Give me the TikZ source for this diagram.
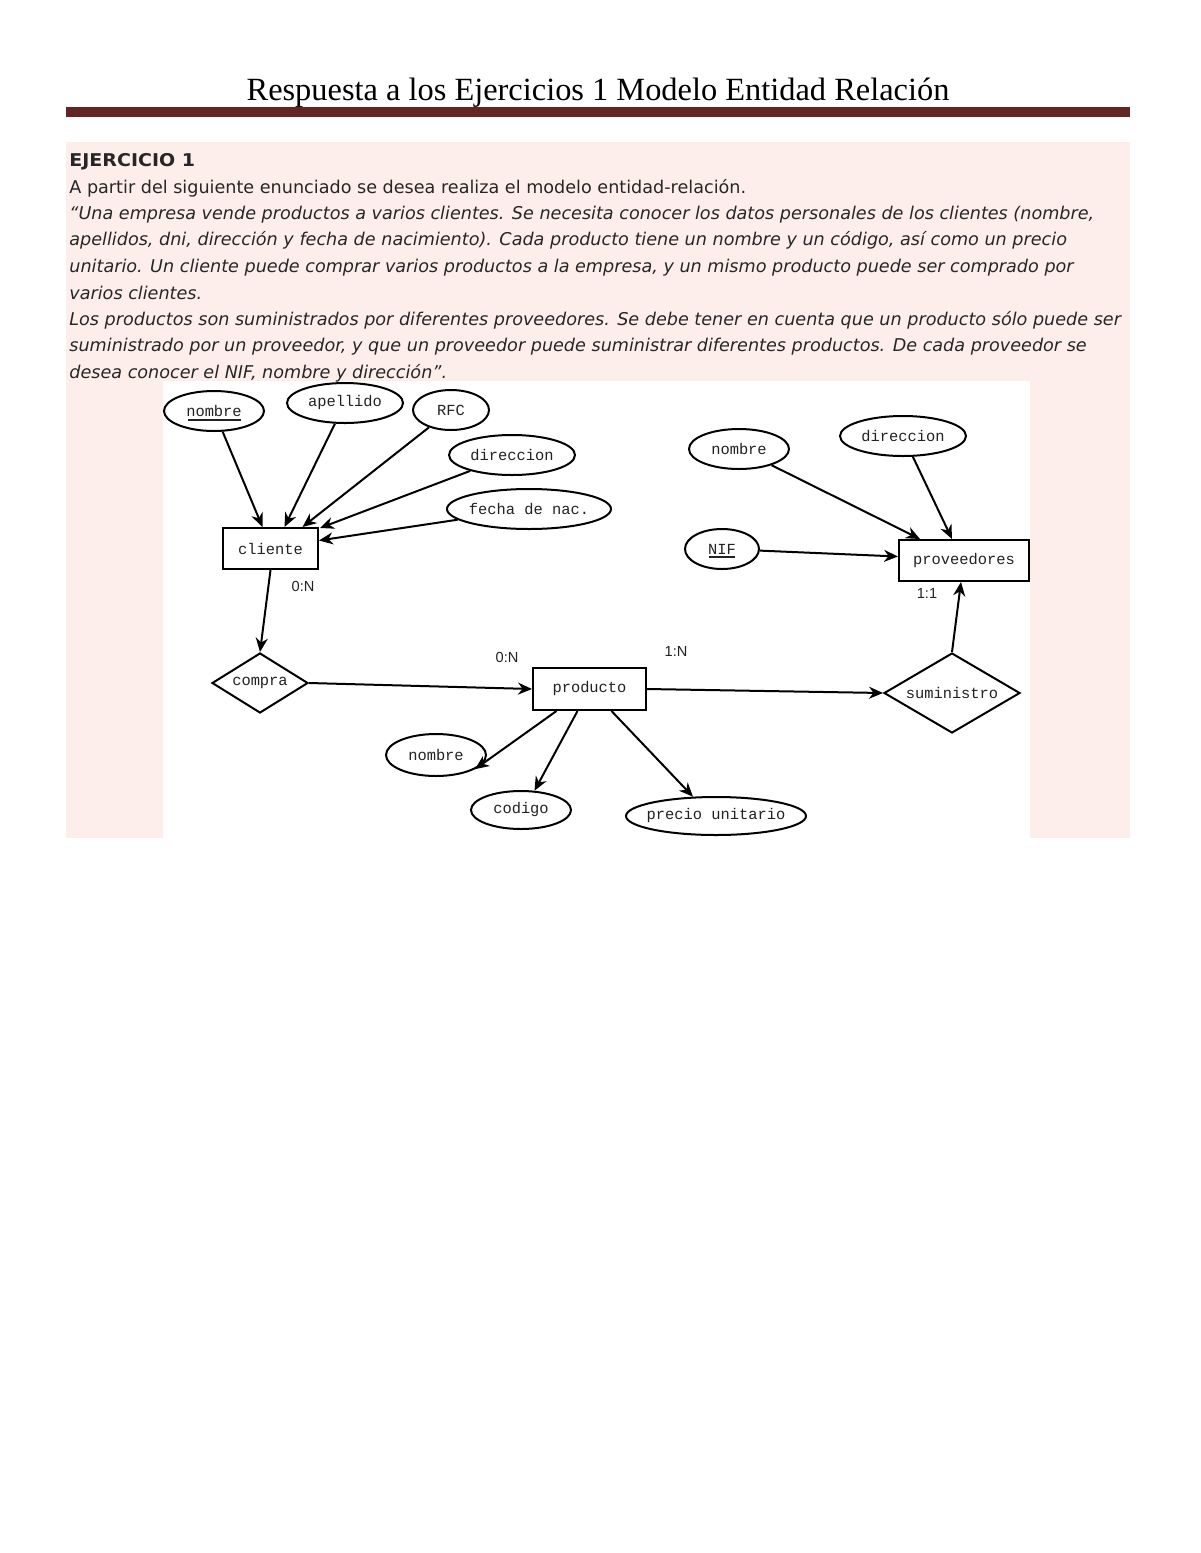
\documentclass[tikz,border=0pt]{standalone}
\usepackage{fontspec}
\setmainfont{DejaVu Sans}
\newfontfamily\titlefont{Liberation Serif}
\newfontfamily\erfont{Liberation Mono}
\newfontfamily\cardfont{Liberation Sans}
\usetikzlibrary{shapes.geometric,arrows.meta,calc}
\definecolor{barred}{HTML}{632423}
\definecolor{pinkbg}{HTML}{FEEEEB}
\definecolor{ink}{HTML}{222222}
\tikzset{
  attr/.style={ellipse, draw=black, line width=1pt, inner sep=0pt, text=ink,
    font=\erfont\fontsize{7.7}{9}\selectfont},
  ent/.style={rectangle, draw=black, line width=1pt, inner sep=0pt, text=ink,
    font=\erfont\fontsize{7.7}{9}\selectfont},
  rel/.style={diamond, aspect=1.6, draw=black, line width=1pt, inner sep=0pt, text=ink,
    font=\erfont\fontsize{7.7}{9}\selectfont},
  arr/.style={line width=1pt, -{Stealth[length=7pt,width=6pt]}},
  card/.style={font=\cardfont\fontsize{7.3}{8}\selectfont, text=ink, inner sep=0pt},
  bodyline/.style={anchor=base west, inner sep=0pt, font=\fontsize{8.8}{10}\selectfont, text=black!85},
  itline/.style={bodyline, font=\fontsize{8.8}{10}\selectfont\itshape},
  uline/.style={line width=1.4pt, draw=ink}
}
\begin{document}
\begin{tikzpicture}[x=0.5pt,y=-0.5pt]
\useasboundingbox (0,0) rectangle (1200,1553);
\fill[white] (0,0) rectangle (1200,1553);
% title and rule
\node[inner sep=0pt, anchor=base, font=\titlefont\fontsize{16.2}{18}\selectfont] (title) at (598,100) {Respuesta a los Ejercicios 1 Modelo Entidad Relación};
\fill[barred] (66,107) rectangle (1130,117);
% backgrounds
\fill[pinkbg] (66,142) rectangle (1130,838);
\fill[white] (163,381) rectangle (1030,838);
% text
\node[bodyline, font=\fontsize{8.8}{10}\selectfont\bfseries] (t1) at (69,166) {\scalebox{1.08}[1]{EJERCICIO 1}};
\node[bodyline] (t2) at (69,193) {A partir del siguiente enunciado se desea realiza el modelo entidad-relación.};
\node[itline] (t3) at (69,219) {“Una empresa vende productos a varios clientes. Se necesita conocer los datos personales de los clientes (nombre,};
\node[itline] (t4) at (69,245) {apellidos, dni, dirección y fecha de nacimiento). Cada producto tiene un nombre y un código, así como un precio};
\node[itline] (t5) at (69,272) {unitario. Un cliente puede comprar varios productos a la empresa, y un mismo producto puede ser comprado por};
\node[itline] (t6) at (69,299) {varios clientes.};
\node[itline] (t7) at (69,325) {Los productos son suministrados por diferentes proveedores. Se debe tener en cuenta que un producto sólo puede ser};
\node[itline] (t8) at (69,351) {suministrado por un proveedor, y que un proveedor puede suministrar diferentes productos. De cada proveedor se};
\node[itline] (t9) at (69,378) {desea conocer el NIF, nombre y dirección”.};
% ER diagram: cliente side
\node[attr, minimum width=50pt, minimum height=20pt] (nom1) at (214,411) {nombre};
\node[attr, minimum width=58pt, minimum height=20pt] (ape) at (345,403) {apellido};
\node[attr, minimum width=38pt, minimum height=20pt] (rfc) at (451,410) {RFC};
\node[attr, minimum width=63pt, minimum height=20pt] (dir1) at (512,455) {direccion};
\node[attr, minimum width=82pt, minimum height=20pt, inner xsep=-1.5pt] (fec) at (529,509) {fecha de nac.};
\node[ent, minimum width=47.5pt, minimum height=20.5pt] (cli) at (270.5,548.5) {cliente};
\node[rel, minimum width=48pt, minimum height=30pt] (com) at (260,683) {compra};
\node[ent, minimum width=56.5pt, minimum height=21pt] (prod) at (589.5,689) {producto};
\node[rel, minimum width=68pt, minimum height=40pt] (sum) at (952,693) {suministro};
\node[ent, minimum width=65pt, minimum height=20.5pt] (prov) at (964,560.5) {proveedores};
\node[attr, minimum width=50pt, minimum height=20pt] (nom2) at (739,449) {nombre};
\node[attr, minimum width=63pt, minimum height=20pt] (dir2) at (903,436) {direccion};
\node[attr, minimum width=37pt, minimum height=20pt] (nif) at (722,549) {NIF};
\node[attr, minimum width=50pt, minimum height=21pt] (nom3) at (436,755) {nombre};
\node[attr, minimum width=50pt, minimum height=19pt] (cod) at (521,810) {codigo};
\node[attr, minimum width=90pt, minimum height=19pt, inner xsep=-3pt] (pre) at (716,816) {precio unitario};
% underlines of keys
\draw[uline] ($(nom1.center)+(-26,9)$) -- ($(nom1.center)+(27,9)$);
\draw[uline] ($(nif.center)+(-13,8)$) -- ($(nif.center)+(13,8)$);
% cardinalities
\node[card] (c1) at (303,586) {0:N};
\node[card] (c2) at (507,657) {0:N};
\node[card] (c3) at (676,651) {1:N};
\node[card] (c4) at (927,593) {1:1};
% connectors
\draw[arr] (nom1) -- ($(cli.north)+(-8,0)$);
\draw[arr] (ape) -- ($(cli.north)+(14,0)$);
\draw[arr] (rfc) -- ($(cli.north)+(32,0)$);
\draw[arr] (dir1) -- ($(cli.north east)+(1,1)$);
\draw[arr] (fec) -- ($(cli.east)+(0,-8)$);
\draw[arr] (cli.south) -- (com.north);
\draw[arr] (com.east) -- (prod.west);
\draw[arr] (prod.east) -- (sum.west);
\draw[arr] (sum.north) -- ($(prov.south)+(-3,0)$);
\draw[arr] ($(prod.south)+(-33,0)$) -- (nom3.-20);
\draw[arr] ($(prod.south)+(-12,0)$) -- (cod.55);
\draw[arr] ($(prod.south)+(22,0)$) -- (pre.140);
\draw[arr] (nom2) -- ($(prov.north)+(-44,0)$);
\draw[arr] (dir2) -- ($(prov.north)+(-12,0)$);
\draw[arr] (nif) -- ($(prov.west)+(0,-4)$);
\end{tikzpicture}
\end{document}
